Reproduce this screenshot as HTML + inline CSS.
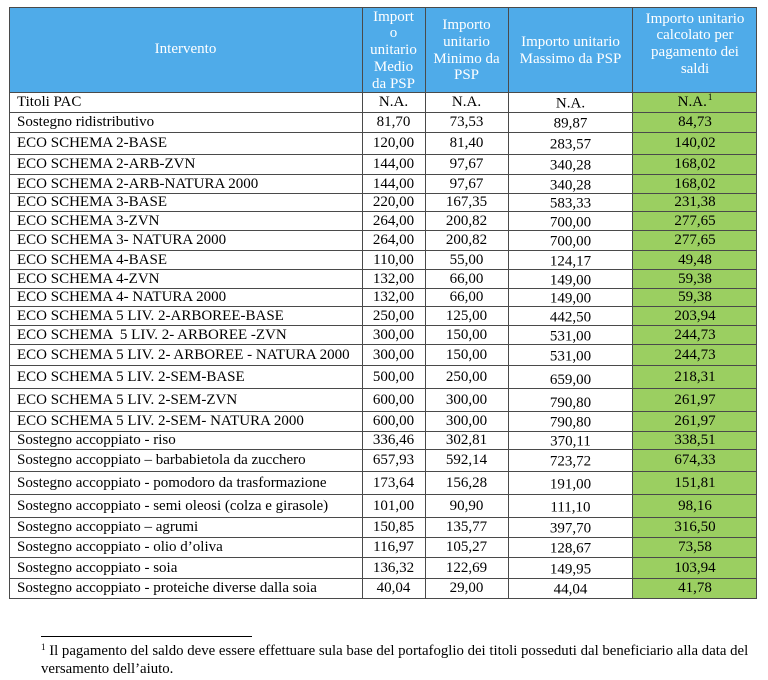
<!DOCTYPE html>
<html><head><meta charset="utf-8">
<style>
html,body{margin:0;padding:0;background:#fff;}
body{width:768px;height:680px;position:relative;overflow:hidden;font-family:"Liberation Serif","Times New Roman",serif;font-size:15px;color:#000;}
.bg{position:absolute;}
.h{position:absolute;left:9px;width:748px;height:1px;background:#4a4a4a;}
.v{position:absolute;top:7px;height:592px;width:1px;background:#4a4a4a;}
.r{position:absolute;left:0;width:768px;}
.r>div{position:absolute;top:0;bottom:0;display:flex;align-items:center;white-space:nowrap;line-height:17px;}
.a{left:17px;}
.b{left:362px;width:63px;justify-content:center;}
.d{left:425px;width:83px;justify-content:center;}
.e{left:508px;width:125px;justify-content:center;transform:translateY(1.5px);}
.f{left:633px;width:124px;justify-content:center;}
.sp{font-size:9px;display:inline-block;transform:translateY(-5px);margin-left:1px;}
.hd{position:absolute;color:#fff;text-align:center;line-height:16.7px;display:flex;align-items:center;justify-content:center;}
</style></head><body>
<div class="bg" style="left:9px;top:7px;width:748px;height:85px;background:#4FABE9"></div>
<div class="bg" style="left:633px;top:92px;width:124px;height:507px;background:#9BCF61"></div>

<div class="hd" style="left:9px;top:7px;width:353px;height:85px;">Intervento</div>
<div class="hd" style="left:362px;top:8px;width:63px;height:85px;">Import<br>o<br>unitario<br>Medio<br>da PSP</div>
<div class="hd" style="left:425px;top:8px;width:83px;height:85px;">Importo<br>unitario<br>Minimo da<br>PSP</div>
<div class="hd" style="left:508px;top:8px;width:125px;height:85px;">Importo unitario<br>Massimo da PSP</div>
<div class="hd" style="left:633px;top:9px;width:124px;height:70px;">Importo unitario<br>calcolato per<br>pagamento dei<br>saldi</div>

<div class="h" style="top:7px"></div>
<div class="h" style="top:92px"></div>
<div class="h" style="top:112px"></div>
<div class="h" style="top:132px"></div>
<div class="h" style="top:154px"></div>
<div class="h" style="top:174px"></div>
<div class="h" style="top:193px"></div>
<div class="h" style="top:211px"></div>
<div class="h" style="top:230px"></div>
<div class="h" style="top:250px"></div>
<div class="h" style="top:269px"></div>
<div class="h" style="top:288px"></div>
<div class="h" style="top:306px"></div>
<div class="h" style="top:325px"></div>
<div class="h" style="top:344px"></div>
<div class="h" style="top:365px"></div>
<div class="h" style="top:388px"></div>
<div class="h" style="top:411px"></div>
<div class="h" style="top:431px"></div>
<div class="h" style="top:449px"></div>
<div class="h" style="top:471px"></div>
<div class="h" style="top:494px"></div>
<div class="h" style="top:517px"></div>
<div class="h" style="top:537px"></div>
<div class="h" style="top:557px"></div>
<div class="h" style="top:578px"></div>
<div class="h" style="top:598px"></div>

<div class="v" style="left:9px"></div>
<div class="v" style="left:362px"></div>
<div class="v" style="left:425px"></div>
<div class="v" style="left:508px"></div>
<div class="v" style="left:632px"></div>
<div class="v" style="left:756px"></div>

<div class="r" style="top:93px;height:19px"><div class="a">Titoli PAC</div><div class="b">N.A.</div><div class="d">N.A.</div><div class="e">N.A.</div><div class="f">N.A.<span class="sp">1</span></div></div>
<div class="r" style="top:113px;height:19px"><div class="a">Sostegno ridistributivo</div><div class="b">81,70</div><div class="d">73,53</div><div class="e">89,87</div><div class="f">84,73</div></div>
<div class="r" style="top:133px;height:21px"><div class="a">ECO SCHEMA 2-BASE</div><div class="b">120,00</div><div class="d">81,40</div><div class="e">283,57</div><div class="f">140,02</div></div>
<div class="r" style="top:155px;height:19px"><div class="a">ECO SCHEMA 2-ARB-ZVN</div><div class="b">144,00</div><div class="d">97,67</div><div class="e">340,28</div><div class="f">168,02</div></div>
<div class="r" style="top:175px;height:18px"><div class="a">ECO SCHEMA 2-ARB-NATURA 2000</div><div class="b">144,00</div><div class="d">97,67</div><div class="e">340,28</div><div class="f">168,02</div></div>
<div class="r" style="top:194px;height:17px"><div class="a">ECO SCHEMA 3-BASE</div><div class="b">220,00</div><div class="d">167,35</div><div class="e">583,33</div><div class="f">231,38</div></div>
<div class="r" style="top:212px;height:18px"><div class="a">ECO SCHEMA 3-ZVN</div><div class="b">264,00</div><div class="d">200,82</div><div class="e">700,00</div><div class="f">277,65</div></div>
<div class="r" style="top:231px;height:19px"><div class="a">ECO SCHEMA 3- NATURA 2000</div><div class="b">264,00</div><div class="d">200,82</div><div class="e">700,00</div><div class="f">277,65</div></div>
<div class="r" style="top:251px;height:18px"><div class="a">ECO SCHEMA 4-BASE</div><div class="b">110,00</div><div class="d">55,00</div><div class="e">124,17</div><div class="f">49,48</div></div>
<div class="r" style="top:270px;height:18px"><div class="a">ECO SCHEMA 4-ZVN</div><div class="b">132,00</div><div class="d">66,00</div><div class="e">149,00</div><div class="f">59,38</div></div>
<div class="r" style="top:289px;height:17px"><div class="a">ECO SCHEMA 4- NATURA 2000</div><div class="b">132,00</div><div class="d">66,00</div><div class="e">149,00</div><div class="f">59,38</div></div>
<div class="r" style="top:307px;height:18px"><div class="a">ECO SCHEMA 5 LIV. 2-ARBOREE-BASE</div><div class="b">250,00</div><div class="d">125,00</div><div class="e">442,50</div><div class="f">203,94</div></div>
<div class="r" style="top:326px;height:18px"><div class="a">ECO SCHEMA &nbsp;5 LIV. 2- ARBOREE -ZVN</div><div class="b">300,00</div><div class="d">150,00</div><div class="e">531,00</div><div class="f">244,73</div></div>
<div class="r" style="top:345px;height:20px"><div class="a">ECO SCHEMA 5 LIV. 2- ARBOREE - NATURA 2000</div><div class="b">300,00</div><div class="d">150,00</div><div class="e">531,00</div><div class="f">244,73</div></div>
<div class="r" style="top:366px;height:22px"><div class="a">ECO SCHEMA 5 LIV. 2-SEM-BASE</div><div class="b">500,00</div><div class="d">250,00</div><div class="e" style="transform:translateY(3px)">659,00</div><div class="f">218,31</div></div>
<div class="r" style="top:389px;height:22px"><div class="a">ECO SCHEMA 5 LIV. 2-SEM-ZVN</div><div class="b">600,00</div><div class="d">300,00</div><div class="e" style="transform:translateY(3px)">790,80</div><div class="f">261,97</div></div>
<div class="r" style="top:412px;height:19px"><div class="a">ECO SCHEMA 5 LIV. 2-SEM- NATURA 2000</div><div class="b">600,00</div><div class="d">300,00</div><div class="e">790,80</div><div class="f">261,97</div></div>
<div class="r" style="top:432px;height:17px"><div class="a">Sostegno accoppiato - riso</div><div class="b">336,46</div><div class="d">302,81</div><div class="e">370,11</div><div class="f">338,51</div></div>
<div class="r" style="top:450px;height:21px"><div class="a">Sostegno accoppiato – barbabietola da zucchero</div><div class="b">657,93</div><div class="d">592,14</div><div class="e">723,72</div><div class="f">674,33</div></div>
<div class="r" style="top:472px;height:22px"><div class="a">Sostegno accoppiato - pomodoro da trasformazione</div><div class="b">173,64</div><div class="d">156,28</div><div class="e">191,00</div><div class="f">151,81</div></div>
<div class="r" style="top:495px;height:22px"><div class="a">Sostegno accoppiato - semi oleosi (colza e girasole)</div><div class="b">101,00</div><div class="d">90,90</div><div class="e">111,10</div><div class="f">98,16</div></div>
<div class="r" style="top:518px;height:19px"><div class="a">Sostegno accoppiato – agrumi</div><div class="b">150,85</div><div class="d">135,77</div><div class="e">397,70</div><div class="f">316,50</div></div>
<div class="r" style="top:538px;height:19px"><div class="a">Sostegno accoppiato - olio d’oliva</div><div class="b">116,97</div><div class="d">105,27</div><div class="e">128,67</div><div class="f">73,58</div></div>
<div class="r" style="top:558px;height:20px"><div class="a">Sostegno accoppiato - soia</div><div class="b">136,32</div><div class="d">122,69</div><div class="e">149,95</div><div class="f">103,94</div></div>
<div class="r" style="top:579px;height:19px"><div class="a">Sostegno accoppiato - proteiche diverse dalla soia</div><div class="b">40,04</div><div class="d">29,00</div><div class="e">44,04</div><div class="f">41,78</div></div>

<div style="position:absolute;left:41px;top:636px;width:211px;height:1px;background:#000"></div>
<div style="position:absolute;left:41px;top:643px;width:727px;font-size:14.8px;line-height:16.5px;white-space:nowrap;"><span style="font-size:9px;position:relative;top:-5px;">1</span> Il pagamento del saldo deve essere effettuare sula base del portafoglio dei titoli posseduti dal beneficiario alla data del<br>versamento dell’aiuto.</div>
</body></html>
